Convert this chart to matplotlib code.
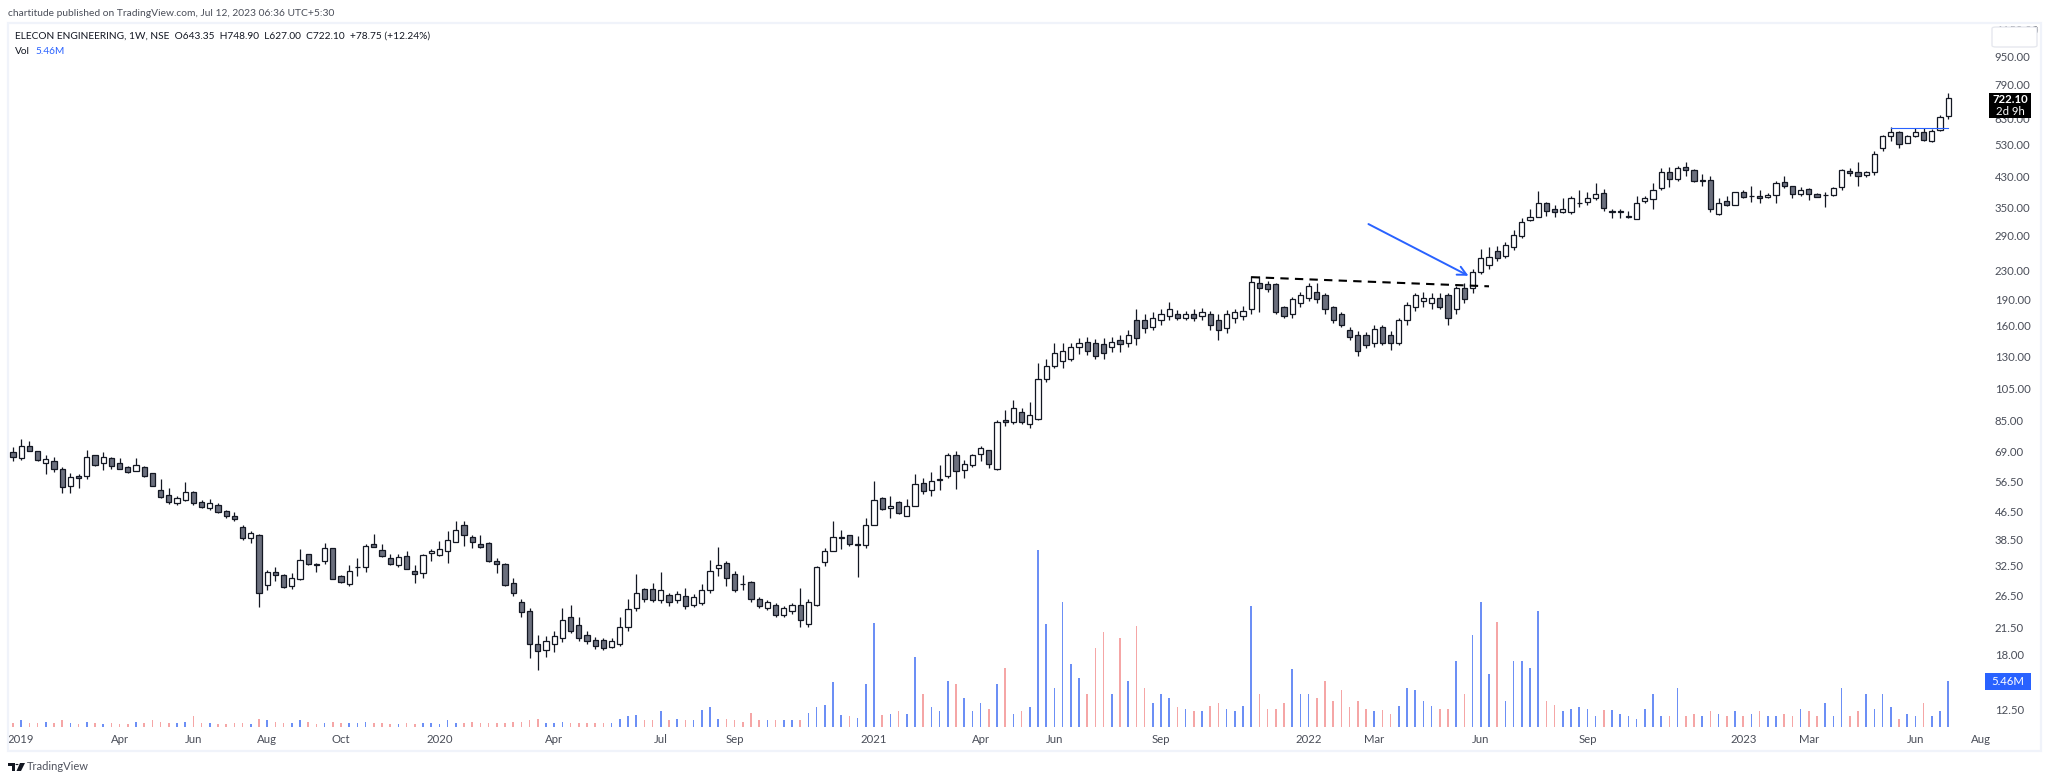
import matplotlib
matplotlib.use("Agg")
import matplotlib.pyplot as plt
import numpy as np
from matplotlib.patches import Rectangle, FancyBboxPatch, FancyArrowPatch, Polygon, Circle

# Weekly candles, oldest first (prices)
opens = [
    69.1, 66.3, 71.5, 69.2, 64, 65.1, 61.4, 54.9, 58.9, 58.8,
    67.4, 64.1, 66.3, 64.2, 62.2, 60.9, 62.2, 59.8, 53.7, 51.7,
    49, 50, 52.8, 49.4, 47.5, 48.5, 46.5, 45, 42, 38.9,
    39.7, 28.4, 31, 30.5, 28.2, 29.6, 34.9, 32.7, 33.5, 36.4,
    30.3, 28.6, 32, 32.2, 37.3, 36, 34, 32.6, 34.6, 31.2,
    30.8, 35.2, 34.7, 35.7, 38, 42.5, 39.1, 37.3, 37.6, 33.4,
    32.7, 28.9, 25.5, 24, 19.3, 18.5, 19.2, 20, 23, 21.8,
    20.5, 19.8, 19.8, 18.9, 19.3, 21.5, 24.5, 27.7, 27.8, 25.8,
    26.6, 25.7, 26.5, 25, 25.3, 27.5, 31.8, 32.9, 30.6, 28.7,
    29, 26, 24.5, 25, 23.3, 24, 25, 22, 25, 33.1,
    35.8, 39, 39.6, 37.2, 37.2, 42.5, 50.7, 47.5, 49.4, 45.1,
    48.2, 56.2, 53.6, 57.2, 58.8, 67.4, 61, 63.2, 68, 69.6,
    61.4, 85, 84, 90, 83, 85.5, 112, 122, 126, 128,
    138, 143, 142, 141, 138, 145, 142, 165, 165, 158,
    165, 170, 172, 168, 172, 170, 172, 165, 157, 168,
    170, 178, 212, 210, 210, 180, 172, 185, 192, 200,
    195, 180, 172, 155, 150, 150, 142, 158, 150, 142,
    165, 180, 188, 185, 192, 195, 178, 205, 205, 228,
    238, 262, 254, 268, 290, 322, 329, 360, 345, 338,
    340, 359, 362, 372, 385, 340, 340, 329, 324, 364,
    369, 398, 443, 423, 456, 448, 418, 420, 334, 365,
    356, 387, 377, 377, 375, 380, 413, 402, 381, 394,
    382, 380, 379, 400, 446, 441, 433, 443, 517, 560,
    578, 537, 560, 578, 542, 583, 643.35,
]
highs = [
    71, 75, 74.3, 69.5, 67.5, 66.6, 62.2, 60, 59.6, 69.8,
    67.6, 68.7, 66.6, 66, 62.6, 66, 62.6, 59.9, 57.4, 54.4,
    51.4, 56.3, 53.2, 50, 50.5, 49, 47, 46.3, 42.5, 40.8,
    39.9, 31.5, 32, 30.7, 30.9, 36.2, 35.1, 32.9, 37.7, 36.5,
    30.5, 32.6, 34, 37.3, 40, 37.5, 34.9, 34.9, 35.6, 32.6,
    34.9, 36.2, 38.1, 40.8, 43.5, 43.5, 39.7, 39.7, 37.8, 34,
    32.9, 29.9, 26, 24.5, 20.5, 20.3, 21, 24.5, 25, 23,
    21, 20.2, 20, 20, 23, 26, 30.7, 28, 28.9, 31,
    27, 27.3, 28, 26.8, 28.7, 33.7, 36.6, 33.5, 31.3, 30.5,
    29.2, 26.3, 25.8, 25.3, 24.8, 25.2, 28, 26, 32.4, 36.3,
    43.7, 41, 39.8, 39.4, 44.5, 56.7, 51, 51.4, 49.6, 50.3,
    59.4, 58.1, 60.2, 63.1, 68.4, 69.3, 65.3, 68, 71.5, 69.9,
    85, 91, 97, 92, 96, 124, 128, 142, 142, 142,
    147, 148, 146, 147, 148, 150, 155, 178, 172, 174,
    178, 186, 177, 176, 178, 179, 176, 172, 177, 178,
    182, 221, 222, 215, 212, 182, 193, 200, 212, 212,
    198, 182, 175, 158, 154, 153, 160, 160, 154, 168,
    187, 198, 200, 198, 198, 198, 208, 212, 232, 266,
    268, 270, 278, 300, 325, 347, 391, 362, 355, 371,
    376, 392, 387, 412, 395, 347, 345, 341, 376, 376,
    412, 455, 457, 461, 474, 452, 435, 432, 373, 377,
    388, 392, 404, 392, 384, 416, 432, 404, 401, 397,
    385, 386, 401, 450, 453, 472, 446, 508, 564, 598,
    581, 567, 591, 594, 587, 644, 748.9,
]
lows = [
    65.1, 65.3, 69.2, 65, 59.5, 60.3, 52.4, 52.6, 54.2, 57.7,
    62.9, 61.2, 61.6, 61.6, 60, 60.6, 58.4, 54.9, 50.9, 48.8,
    48.6, 49.7, 48.6, 47.5, 47, 45.8, 44.5, 43.5, 38.5, 37.7,
    24.6, 27.6, 29.3, 28, 27.7, 29.4, 32.6, 31, 32.8, 29.6,
    28.9, 28.2, 30.3, 31, 36.6, 34.2, 32.6, 32.1, 31.6, 28.9,
    29.8, 33.5, 34.6, 33, 37.8, 37, 36.5, 36.5, 33.2, 30.9,
    28.2, 26.5, 23, 17.5, 16.2, 17.6, 18.3, 19.5, 20.7, 19.6,
    19.3, 18.6, 18.5, 18.7, 19, 21, 24, 25.5, 25.4, 25.3,
    24.8, 25.2, 24.3, 24.6, 25, 27, 30.3, 28.2, 27.2, 27.6,
    25.4, 24.4, 24.2, 23, 23, 23.5, 21.5, 21.6, 24.8, 32.4,
    35.6, 36.2, 37, 30, 36.4, 42.3, 47, 44.4, 45.6, 44.9,
    48, 52.1, 51.3, 53.6, 57.8, 53.8, 58.1, 62.2, 64.7, 62.1,
    61, 82, 83, 83, 81, 85, 110, 120, 120, 126,
    132, 131, 128, 128, 134, 134, 138, 140, 152, 155,
    160, 165, 165, 165, 164, 165, 155, 145, 152, 162,
    166, 172, 175, 200, 172, 168, 168, 180, 188, 185,
    172, 162, 158, 145, 130, 137, 138, 140, 136, 140,
    160, 176, 180, 178, 178, 160, 172, 185, 198, 225,
    232, 245, 250, 264, 285, 320, 327, 330, 329, 337,
    334, 351, 356, 367, 342, 325, 325, 325, 323, 360,
    345, 393, 401, 417, 431, 413, 402, 340, 332, 352,
    355, 373, 363, 359, 371, 359, 399, 372, 378, 368,
    374, 350, 377, 393, 430, 404, 428, 433, 508, 543,
    517, 535, 557, 544, 540, 582, 627,
]
closes = [
    66.6, 71.5, 69.5, 65.3, 65.7, 61.5, 54.6, 58.5, 58.1, 66.5,
    63, 66.5, 62.7, 61.7, 60.2, 63, 58.8, 55, 51, 49.3,
    50.9, 52.8, 49.2, 47.9, 49, 46.4, 45, 44.2, 38.9, 40.2,
    27, 31, 30.4, 28.1, 29.8, 33.7, 32.8, 32.6, 36.4, 29.7,
    29, 31.2, 32.1, 37, 36.7, 34.5, 32.7, 34.4, 31.7, 30.7,
    34.8, 35.8, 36.2, 38.4, 41.1, 39.6, 38, 36.7, 33.5, 32.8,
    28.4, 27, 23.8, 19.3, 18.4, 19.6, 20.3, 22.5, 21, 20,
    19.6, 19, 18.7, 19.7, 21.5, 24.3, 27, 26, 25.8, 27.5,
    25.5, 26.8, 24.7, 26.3, 27.5, 31.2, 32.5, 29.8, 27.6, 28.6,
    26, 24.8, 25.4, 23.4, 24.4, 24.9, 22.5, 25.5, 32, 35.6,
    39.3, 39.1, 37.4, 37.3, 42.5, 50, 47.3, 48.1, 45.8, 48.1,
    55.6, 53, 56.8, 57.4, 67.5, 60.7, 63.8, 67.5, 70.9, 63.5,
    84.1, 84, 92, 84, 88, 112, 122, 133, 135, 138,
    142, 135, 130, 133, 143, 141, 150, 147, 157, 168,
    172, 178, 168, 172, 168, 174, 160, 155, 172, 174,
    176, 213, 205, 204, 175, 170, 190, 195, 207, 190,
    178, 165, 160, 148, 135, 140, 156, 142, 142, 165,
    183, 195, 192, 192, 180, 168, 205, 190, 228, 250,
    252, 250, 272, 292, 318, 329, 360, 341, 338, 345,
    371, 359.5, 371, 381, 348, 340.5, 340.5, 329.5, 359, 371,
    393, 443, 423, 453, 448, 416, 418.5, 345, 361, 355,
    387, 375, 377.5, 373, 380, 411, 404, 381, 393, 382,
    375, 380.5, 398, 447, 440, 431, 442, 500, 562, 578,
    533, 560, 577, 546, 581, 638, 722.1,
]
# Volume in millions of shares
volumes = np.array([
    3, 5, 3, 3, 4, 3, 5, 3, 2, 4, 3, 2, 3, 2, 2, 4, 3, 5, 4, 3,
    3, 4, 8, 3, 3, 2, 2, 3, 3, 2, 6, 5, 4, 3, 3, 5, 4, 2, 3, 4,
    3, 3, 3, 4, 3, 3, 2, 2, 3, 2, 3, 3, 2, 5, 3, 3, 4, 3, 3, 3,
    3, 4, 4, 5, 6, 3, 3, 4, 3, 3, 3, 3, 3, 3, 6, 8, 9, 5, 5, 12,
    5, 6, 5, 5, 13, 15, 6, 6, 5, 4, 11, 5, 5, 5, 5, 5, 5, 11, 15, 17,
    34, 9, 8, 7, 33, 79, 9, 10, 12, 10, 53, 25, 15, 12, 35, 33, 22, 12, 18, 14,
    33, 45, 10, 12, 15, 135, 78, 30, 95, 48, 37, 25, 60, 72, 25, 68, 35, 77, 30, 18,
    25, 22, 15, 14, 12, 12, 16, 18, 14, 12, 16, 92, 25, 14, 14, 18, 44, 25, 25, 22,
    35, 20, 28, 15, 20, 14, 12, 13, 10, 16, 30, 28, 20, 16, 14, 14, 50, 25, 70, 95,
    40, 80, 20, 50, 50, 45, 88, 20, 17, 12, 14, 15, 14, 8, 13, 13, 10, 8, 6, 14,
    25, 8, 8, 30, 8, 10, 8, 12, 10, 8, 12, 8, 10, 12, 8, 8, 10, 8, 14, 12,
    8, 18, 8, 30, 8, 12, 25, 14, 25, 15, 6, 10, 8, 18, 8, 12, 35,
]) * 0.156
price_ticks = [12.5, 18, 21.5, 26.5, 32.5, 38.5, 46.5, 56.5, 69, 85, 105, 130, 160,
               190, 230, 290, 350, 430, 530, 630, 790, 950]
time_ticks = [1, 13, 22, 31, 40, 52, 66, 79, 88, 105, 118, 127, 140, 158, 166, 179, 192, 211, 219, 232, 240]
time_labels = ["2019", "Apr", "Jun", "Aug", "Oct", "2020", "Apr", "Jul", "Sep", "2021", "Apr", "Jun",
               "Sep", "2022", "Mar", "Jun", "Sep", "2023", "Mar", "Jun", "Aug"]
trend_idx = [151, 180]
trend_price = [220, 207]
arrow_idx = [165.3, 177.5]
arrow_price = [313, 222]
resistance_idx = [229, 236]
resistance_price = [594, 594]

W, H = 2048, 781
FONT = "Lato"
DARK = "#131722"
TEXT = "#4a4e59"
BLUE = "#2962ff"

def box(x0, y0, x1, y1):
    # pixel box, y measured from the top
    return [x0 / W, 1 - y1 / H, (x1 - x0) / W, (y1 - y0) / H]

def px(x, y):
    return x / W, 1 - y / H

fig = plt.figure(figsize=(W / 100, H / 100), dpi=100, facecolor="white")

# Chart frame
fig.patches.append(Rectangle(px(8, 751), 2033 / W, 728 / H, transform=fig.transFigure,
                             fc="none", ec="#f0f3fa", lw=1.6))

left, right, top, base = 8, 1985, 23, 727
k = 0.006641
n = len(opens)
x = np.arange(n)
xlim = ((left - 13) / 8.2, (right - 13) / 8.2)

# Volume underneath the candles
ax_vol = fig.add_axes(box(left, top, right, base), facecolor="none")
vol_colors = ["#6c8ff5" if c >= o else "#f5a6a6" for o, c in zip(opens, closes)]
ax_vol.bar(x, volumes, width=0.2, color=vol_colors, linewidth=0)
ax_vol.set_xlim(xlim)
ax_vol.set_ylim(0, (base - top) * 0.1187)
ax_vol.axis("off")

# Candles on the log price axis
ax = fig.add_axes(box(left, top, right, base), facecolor="none")
ax.set_yscale("log")
ax.set_xlim(xlim)
ax.set_ylim(12.5 * np.exp((709 - base) * k), 12.5 * np.exp((709 - top) * k))
ax.vlines(x, lows, highs, color=DARK, lw=0.9, zorder=2)
body_low = np.minimum(opens, closes)
body_high = np.maximum(opens, closes)
face = ["white" if c >= o else "#6b6f7d" for o, c in zip(opens, closes)]
ax.bar(x, body_high - body_low, bottom=body_low, width=0.62, color=face,
       edgecolor=DARK, linewidth=0.9, zorder=3)

# Drawings
ax.plot(trend_idx, trend_price, color="black", lw=1.5, ls=(0, (4, 3)), zorder=4)
ax.plot(resistance_idx, resistance_price, color=BLUE, lw=0.8, zorder=4)
ax.add_patch(FancyArrowPatch((arrow_idx[0], arrow_price[0]), (arrow_idx[1], arrow_price[1]),
                             arrowstyle="->", mutation_scale=16, color=BLUE, lw=1.4, zorder=5,
                             shrinkA=0, shrinkB=0))

# Axes text
for s in ax.spines.values():
    s.set_visible(False)
ax.yaxis.tick_right()
ax.set_yticks(price_ticks)
ax.set_yticklabels([f"{p:.2f}" for p in price_ticks], fontsize=8.2, color=TEXT, family=FONT)
ax.minorticks_off()
ax.tick_params(axis="y", length=0, pad=7)
ax.set_xticks(time_ticks)
ax.set_xticklabels(time_labels, fontsize=8.2, color=TEXT, family=FONT)
ax.tick_params(axis="x", length=0, pad=5)

# Header lines
fig.text(*px(8, 13), "chartitude published on TradingView.com, Jul 12, 2023 06:36 UTC+5:30",
         fontsize=7.4, color=TEXT, family=FONT, va="center")
fig.text(*px(15, 36), "ELECON ENGINEERING, 1W, NSE  O643.35  H748.90  L627.00  C722.10  +78.75 (+12.24%)",
         fontsize=7.3, color=DARK, family=FONT, va="center")
fig.text(*px(15, 52), "Vol", fontsize=7.3, color=DARK, family=FONT, va="center")
fig.text(*px(35, 52), "5.46M", fontsize=7.3, color=BLUE, family=FONT, va="center")

# Price scale badges
fig.text(*px(1996, 31), "1150.00", fontsize=8.2, color=TEXT, family=FONT, va="center")
fig.patches.append(FancyBboxPatch(px(1992, 47), 45 / W, 20 / H, transform=fig.transFigure, zorder=5,
                                  boxstyle="round,pad=0,rounding_size=0.002",
                                  fc="white", ec="#e6e8ee", lw=1))
fig.patches.append(Rectangle(px(1989, 118), 42 / W, 25 / H, transform=fig.transFigure,
                             fc="black", ec="none", zorder=5))
fig.text(*px(2010, 99.5), "722.10", fontsize=8.2, color="white", family=FONT, weight="bold",
         ha="center", va="center", zorder=6)
fig.text(*px(2010, 111.5), "2d 9h", fontsize=8.2, color="white", family=FONT,
         ha="center", va="center", zorder=6)
fig.patches.append(Rectangle(px(1985, 690), 46 / W, 17 / H, transform=fig.transFigure,
                             fc=BLUE, ec="none", zorder=5))
fig.text(*px(2008, 681.5), "5.46M", fontsize=8.2, color="white", family=FONT,
         ha="center", va="center", zorder=6)

# Logo and wordmark
logo = [Polygon([px(8, 763), px(15, 763), px(15, 771), px(12, 771), px(12, 766), px(8, 766)]),
        Circle(px(17, 764.5), 1.6 / W),
        Polygon([px(16.5, 771), px(20, 763), px(25, 763), px(21, 771)])]
for p in logo:
    p.set_transform(fig.transFigure)
    p.set_facecolor(DARK)
    p.set_edgecolor("none")
    fig.patches.append(p)
fig.text(*px(27, 767), "TradingView", fontsize=8, color="#50535e", family=FONT, va="center")

fig.savefig("out.png", dpi=100)
